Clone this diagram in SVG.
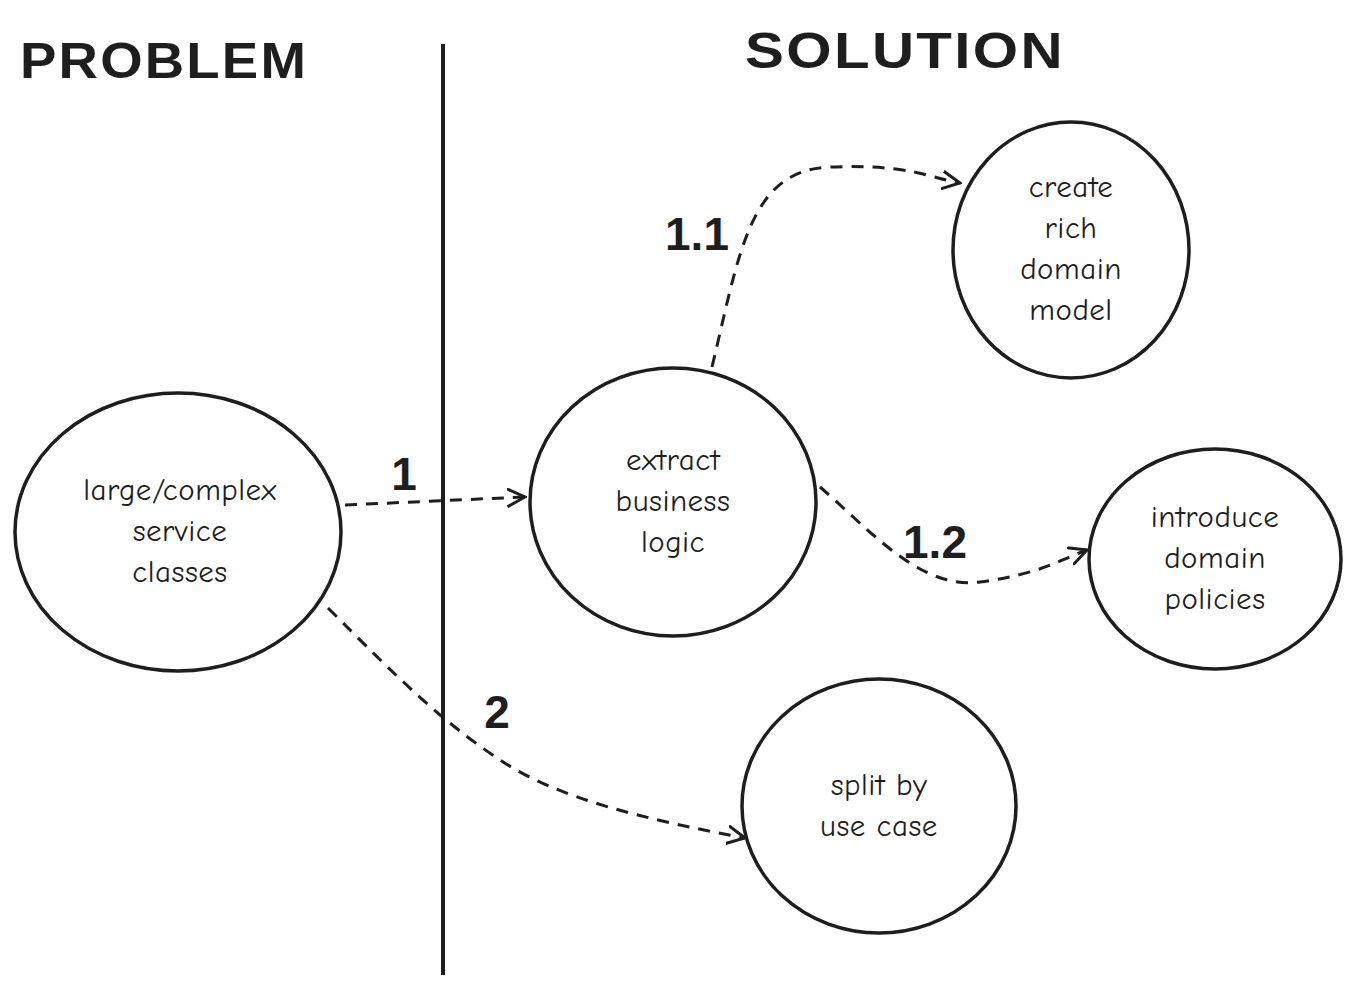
<svg xmlns="http://www.w3.org/2000/svg" width="1358" height="992" viewBox="0 0 1358 992">
<style>
.n{fill:#fff;stroke:#1e1e1e;stroke-width:3.5}
.t{font-family:"Comic Neue","Liberation Sans",sans-serif;font-size:31px;font-weight:500;fill:#1e1e1e;text-anchor:middle;letter-spacing:0.5px}
.h{font-family:"Liberation Sans",sans-serif;font-size:50px;font-weight:bold;fill:#1e1e1e;letter-spacing:2px}
.c{fill:none;stroke:#1e1e1e;stroke-width:3;stroke-dasharray:12 9}
.l{font-family:"Liberation Sans",sans-serif;font-size:46px;font-weight:bold;fill:#1e1e1e;text-anchor:middle}
</style>
<defs><marker id="a" markerWidth="20" markerHeight="20" refX="18" refY="10" orient="auto" markerUnits="userSpaceOnUse"><path d="M0,1 L18,10 L0,19" fill="none" stroke="#1e1e1e" stroke-width="3"/></marker></defs>
<rect width="1358" height="992" fill="#fff"/>
<text class="h" x="20" y="78" textLength="288" lengthAdjust="spacingAndGlyphs">PROBLEM</text>
<text class="h" x="745" y="68" textLength="320" lengthAdjust="spacingAndGlyphs">SOLUTION</text>
<line x1="443" y1="44" x2="443" y2="975" stroke="#1e1e1e" stroke-width="4"/>
<g id="connectors">
<path class="c" d="M345,505 L525,497" marker-end="url(#a)"/>
<path class="c" d="M712,367 C740,250 750,170 830,167 S930,178 960,183" marker-end="url(#a)"/>
<path class="c" d="M820,487 C870,530 920,590 980,582 S1060,560 1087,550" marker-end="url(#a)"/>
<path class="c" d="M328,608 C400,680 440,720 500,760 S650,820 745,838" marker-end="url(#a)"/>
<text class="l" x="404" y="490">1</text>
<text class="l" x="697" y="250">1.1</text>
<text class="l" x="935" y="558">1.2</text>
<text class="l" x="497" y="728">2</text>
</g>
<g id="n1"><ellipse class="n" cx="178" cy="532" rx="163" ry="139"/><text class="t" x="180" y="500">large/complex</text><text class="t" x="180" y="541">service</text><text class="t" x="180" y="582">classes</text></g>
<g id="n2"><ellipse class="n" cx="673" cy="502" rx="143" ry="134"/><text class="t" x="673" y="470">extract</text><text class="t" x="673" y="511">business</text><text class="t" x="673" y="552">logic</text></g>
<g id="n3"><ellipse class="n" cx="1071" cy="250" rx="118" ry="128"/><text class="t" x="1071" y="197">create</text><text class="t" x="1071" y="238">rich</text><text class="t" x="1071" y="279">domain</text><text class="t" x="1071" y="320">model</text></g>
<g id="n4"><ellipse class="n" cx="1215" cy="559" rx="126" ry="110"/><text class="t" x="1215" y="527">introduce</text><text class="t" x="1215" y="568">domain</text><text class="t" x="1215" y="609">policies</text></g>
<g id="n5"><ellipse class="n" cx="879" cy="806" rx="137" ry="127"/><text class="t" x="879" y="795">split by</text><text class="t" x="879" y="836">use case</text></g>
</svg>
